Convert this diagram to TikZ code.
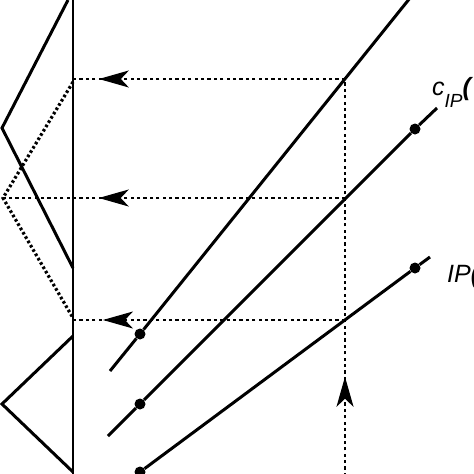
\documentclass[tikz,border=0pt]{standalone}
\usepackage{fontspec}
\setmainfont{Liberation Sans}
\usepackage{tikz}
\usetikzlibrary{arrows.meta,decorations.markings}

\begin{document}
\begin{tikzpicture}
		[x = 1pt, y = -1pt,
		 solid line/.style = {line width = 3pt},
		 axis line/.style = {line width = 1.5pt},
		 grid line/.style = {line width = 1.6pt, dash pattern = on 3.2pt off 3.2pt},
		 echo line/.style = {line width = 3.2pt, dash pattern = on 2.6pt off 2.4pt},
		 head/.tip = {Stealth[length = 30pt, width = 17pt, inset = 8pt]},
		 arrow at/.style = {postaction = {decorate}, decoration = {markings,
			mark = at position #1 with {\arrow[solid]{head}}}},
		 dot/.style = {circle, fill, inner sep = 0pt, minimum size = 11pt},
		 lbl/.style = {inner sep = 0pt, anchor = base west, font = \fontsize{25}{25}\selectfont\itshape}]
			\useasboundingbox (0,0) rectangle (474,474);
			% time axis and reflected signals
			\coordinate (ax top) at (73,-2);
			\coordinate (ax bot) at (73,476);
			\draw[axis line] (ax top) -- (ax bot);
			\coordinate (za) at (68,0);
			\coordinate (zb) at (2,128);
			\coordinate (zc) at (73,268);
			\draw[solid line] (za) -- (zb) -- (zc);
			\coordinate (ea) at (73,82);
			\coordinate (eb) at (3,198);
			\coordinate (ec) at (73,318);
			\draw[echo line] (ea) -- (eb) -- (ec);
			\coordinate (la) at (73,336);
			\coordinate (lb) at (2,404);
			\coordinate (lc) at (73,472);
			\draw[solid line] (la) -- (lb) -- (lc);
			% projection lines
			\coordinate (top) at (345,79);
			\coordinate (mid) at (345,198);
			\coordinate (low) at (345,320);
			\coordinate (foot) at (345,476);
			\draw[grid line, arrow at = 0.905] (top) -- (73,79);
			\draw[grid line, arrow at = 0.72] (mid) -- (eb);
			\draw[grid line, arrow at = 0.89] (low) -- (73,320);
			\draw[grid line, arrow at = 0.25] (foot) -- (top);
			% world lines
			\node[dot] (a1) at (140,334) {};
			\node[dot] (b1) at (140,404) {};
			\node[dot] (b2) at (415,129) {};
			\node[dot] (c1) at (140,472) {};
			\node[dot] (c2) at (415,268) {};
			\draw[solid line] (110,371) -- (a1) -- (410,-2);
			\draw[solid line] (108,436) -- (b1) -- (b2) -- (437,108);
			\draw[solid line] (c1) -- (c2) -- (430,257);
			\node[lbl] (cip) at (432,95) {c\raisebox{-12pt}{\fontsize{19}{19}\selectfont IP}\textbf{(}};
			\node[lbl] (ip) at (447,282) {IP\textbf{(}};
	\end{tikzpicture}
\end{document}
